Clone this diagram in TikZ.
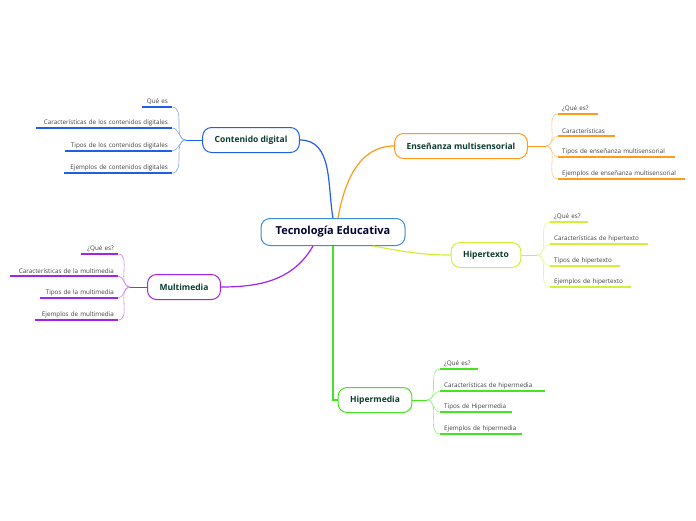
\documentclass[tikz,border=0pt]{standalone}
\usepackage{fontspec}
\setmainfont{Open Sans}
\usetikzlibrary{positioning}
\definecolor{cblue}{HTML}{1F5FE8}
\definecolor{corange}{HTML}{FF9A1A}
\definecolor{clime}{HTML}{D2F03A}
\definecolor{cgreen}{HTML}{44E41E}
\definecolor{cpurple}{HTML}{A322EC}
\definecolor{ccenter}{HTML}{3C8CD2}
\definecolor{ctext}{HTML}{0B3D2E}
\tikzset{
	center/.style={draw=ccenter, rounded corners=9pt, line width=1pt, fill=white, minimum width=144pt, minimum height=27pt, font=\fontsize{11}{13}\selectfont\bfseries, text=black!80!blue},
	branch/.style={draw=#1, rounded corners=9pt, line width=1pt, fill=white, minimum height=25pt, inner xsep=12pt, font=\fontsize{8.5}{10}\selectfont\bfseries, text=ctext},
	leafl/.style={anchor=south west, inner xsep=4pt, inner ysep=2pt, align=left, font=\fontsize{6.3}{8}\selectfont, text=black!75},
	leafr/.style={anchor=south east, inner xsep=4pt, inner ysep=2pt, align=right, font=\fontsize{6.3}{8}\selectfont, text=black!75},
	main/.style={draw=#1, line width=1.2pt},
	sub/.style={draw=#1!55, line width=0.6pt},
	under/.style={draw=#1, line width=1.3pt},
}
\begin{document}
\begin{tikzpicture}[x=1pt, y=-1pt]
    \useasboundingbox (0,0) rectangle (696,520);
    
    % central and branch nodes
    \node[center] (tec) at (333,232) {Tecnología Educativa};
    \node[branch=cblue] (con) at (251,140) {Contenido digital};
    \node[branch=cpurple] (mul) at (184,287) {Multimedia};
    \node[branch=corange] (ens) at (461,146) {Enseñanza multisensorial};
    \node[branch=clime] (hit) at (486,255) {Hipertexto};
    \node[branch=cgreen] (him) at (375,400) {Hipermedia};
    
    % main connectors
    \draw[main=cblue] (tec.north) to[out=100,in=0] (con.east);
    \draw[main=cpurple] ([xshift=-20pt]tec.south) to[out=240,in=0] (mul.east);
    \draw[main=corange] ([xshift=5pt]tec.north) to[out=80,in=180] (ens.west);
    \draw[main=clime] ([xshift=40pt]tec.south) to[out=-10,in=180] (hit.west);
    \draw[main=cgreen] (tec.south) |- (him.west);
    
    % hubs
    \coordinate (conh) at (186,140);
    \coordinate (mulh) at (130,287);
    \coordinate (ensh) at (546,146);
    \coordinate (hith) at (537,255);
    \coordinate (himh) at (427,400);
    \draw[main=cblue, line width=0.8pt] (con.west) -- (conh);
    \draw[main=cpurple, line width=0.8pt] (mul.west) -- (mulh);
    \draw[main=corange, line width=0.8pt] (ens.east) -- (ensh);
    \draw[main=clime, line width=0.8pt] (hit.east) -- (hith);
    \draw[main=cgreen, line width=0.8pt] (him.east) -- (himh);
    
    % Contenido digital
    \node[leafr, text width=22pt] (c1) at (172,107) {Qué es};
    \node[leafr, text width=128pt] (c2) at (172,128) {Características de los contenidos digitales};
    \node[leafr, text width=99pt] (c3) at (172,151) {Tipos de los contenidos digitales};
    \node[leafr, text width=100pt] (c4) at (172,173) {Ejemplos de contenidos digitales};
    \foreach \n in {c1,c2,c3,c4} {
        \draw[under=cblue] (\n.south west) -- (\n.south east);
        \draw[sub=cblue] (conh) to[out=180,in=0] (\n.south east);
    }
    
    % Multimedia
    \node[leafr, text width=29pt] (m1) at (118,254) {¿Qué es?};
    \node[leafr, text width=100pt] (m2) at (118,276) {Características de la multimedia};
    \node[leafr, text width=70pt] (m3) at (118,298) {Tipos de la multimedia};
    \node[leafr, text width=75pt] (m4) at (118,320) {Ejemplos de multimedia};
    \foreach \n in {m1,m2,m3,m4} {
        \draw[under=cpurple] (\n.south west) -- (\n.south east);
        \draw[sub=cpurple] (mulh) to[out=180,in=0] (\n.south east);
    }
    
    % Enseñanza multisensorial
    \node[leafl, text width=32pt] (e1) at (558,114) {¿Qué es?};
    \node[leafl, text width=49pt] (e2) at (558,136) {Características};
    \node[leafl, text width=109pt] (e3) at (558,157) {Tipos de enseñanza multisensorial};
    \node[leafl, text width=119pt] (e4) at (558,179) {Ejemplos de enseñanza multisensorial};
    \foreach \n in {e1,e2,e3,e4} {
        \draw[under=corange] (\n.south west) -- (\n.south east);
        \draw[sub=corange] (ensh) to[out=0,in=180] (\n.south west);
    }
    
    % Hipertexto
    \node[leafl, text width=30pt] (h1) at (550,222) {¿Qué es?};
    \node[leafl, text width=90pt] (h2) at (550,244) {Características de hipertexto};
    \node[leafl, text width=62pt] (h3) at (550,266) {Tipos de hipertexto};
    \node[leafl, text width=73pt] (h4) at (550,287) {Ejemplos de hipertexto};
    \foreach \n in {h1,h2,h3,h4} {
        \draw[under=clime] (\n.south west) -- (\n.south east);
        \draw[sub=clime] (hith) to[out=0,in=180] (\n.south west);
    }
    
    % Hipermedia
    \node[leafl, text width=30pt] (p1) at (440,369) {¿Qué es?};
    \node[leafl, text width=97pt] (p2) at (440,391) {Características de hipermedia};
    \node[leafl, text width=64pt] (p3) at (440,412) {Tipos de Hipermedia};
    \node[leafl, text width=74pt] (p4) at (440,434) {Ejemplos de hipermedia};
    \foreach \n in {p1,p2,p3,p4} {
        \draw[under=cgreen] (\n.south west) -- (\n.south east);
        \draw[sub=cgreen] (himh) to[out=0,in=180] (\n.south west);
    }
    
\end{tikzpicture}
\end{document}
